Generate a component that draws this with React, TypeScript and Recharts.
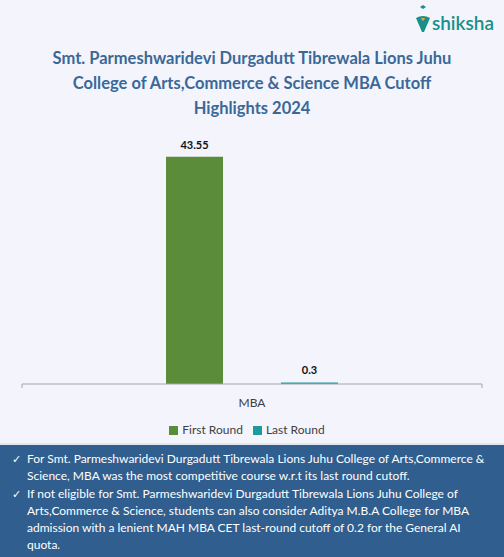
import React from "react";
import { BarChart, Bar, XAxis, YAxis, Legend, LabelList } from "recharts";

const categories = ["MBA"];
const firstRound = [43.55];
const lastRound = [0.3];

const titleLines = [
  "Smt. Parmeshwaridevi Durgadutt Tibrewala Lions Juhu",
  "College of Arts,Commerce & Science MBA Cutoff",
  "Highlights 2024",
];

const notes = [
  "For Smt. Parmeshwaridevi Durgadutt Tibrewala Lions Juhu College of Arts,Commerce & Science, MBA was the most competitive course w.r.t its last round cutoff.",
  "If not eligible for Smt. Parmeshwaridevi Durgadutt Tibrewala Lions Juhu College of Arts,Commerce & Science, students can also consider Aditya M.B.A College for MBA admission with a lenient MAH MBA CET last-round cutoff of 0.2 for the General AI quota.",
];

const data = categories.map((name, i) => ({
  name,
  first: firstRound[i],
  last: lastRound[i],
}));

const FONT = "Lato, 'Open Sans', sans-serif";

// category label plus Excel-like tick marks at the band edges
const CategoryTick = (props: any) => {
  const { x, y, payload } = props;
  const half = payload.offset ?? 0;
  return (
    <g>
      <line x1={x - half} y1={y - 8} x2={x - half} y2={y - 4} stroke="#a6a6a6" />
      <line x1={x + half} y1={y - 8} x2={x + half} y2={y - 4} stroke="#a6a6a6" />
      <text x={x} y={y + 15} textAnchor="middle" fontSize={12} fill="#404040" fontFamily={FONT}>
        {payload.value}
      </text>
    </g>
  );
};

export default function App() {
  return (
    <div
      style={{
        position: "absolute",
        left: 0,
        top: 0,
        width: 504,
        height: 557,
        background: "#f4f4fd",
        fontFamily: FONT,
        overflow: "hidden",
      }}
    >
      <div
        style={{
          position: "absolute",
          right: 10,
          top: 4,
          display: "flex",
          alignItems: "flex-end",
          color: "#17908c",
        }}
      >
        <svg width={16} height={30} viewBox="0 0 16 30">
          <path d="M5 3 L8 1 L11 3 L8 5 Z" fill="#17908c" />
          <path d="M1 14 Q8 10 15 14 L9 28 L7 28 Z" fill="#17908c" />
          <path d="M6 14 Q8 20 10 14" fill="#e8a33c" />
        </svg>
        <span style={{ fontSize: 19, fontWeight: 600, lineHeight: "22px", marginLeft: 1 }}>shiksha</span>
      </div>

      <div
        style={{
          position: "absolute",
          left: 0,
          top: 46,
          width: 504,
          textAlign: "center",
          color: "#3a6897",
          fontWeight: 700,
          fontSize: 16.5,
          lineHeight: "25px",
        }}
      >
        {titleLines.map((t) => (
          <div key={t}>{t}</div>
        ))}
      </div>

      <div style={{ position: "absolute", left: 0, top: 0 }}>
        <BarChart
          width={504}
          height={453}
          data={data}
          margin={{ top: 123, right: 22, left: 22, bottom: 0 }}
          barSize={57}
          barGap={58}
        >
          <XAxis
            dataKey="name"
            height={30}
            axisLine={{ stroke: "#a6a6a6" }}
            tickLine={false}
            tick={<CategoryTick />}
            interval={0}
          />
          <YAxis hide domain={[0, 50]} />
          <Legend
            verticalAlign="bottom"
            height={31}
            iconType="square"
            iconSize={9}
            wrapperStyle={{ paddingTop: 8, fontSize: 12, fontFamily: FONT }}
            formatter={(value) => <span style={{ color: "#404040" }}>{value}</span>}
          />
          <Bar dataKey="first" name="First Round" fill="#5b8c3a" isAnimationActive={false}>
            <LabelList dataKey="first" position="top" offset={8} fill="#111" fontSize={11} fontWeight={700} fontFamily={FONT} />
          </Bar>
          <Bar dataKey="last" name="Last Round" fill="#1f9a9c" isAnimationActive={false}>
            <LabelList dataKey="last" position="top" offset={8} fill="#111" fontSize={11} fontWeight={700} fontFamily={FONT} />
          </Bar>
        </BarChart>
      </div>

      <div
        style={{
          position: "absolute",
          left: 0,
          top: 443,
          width: 504,
          height: 114,
          background: "#2f5e8f",
          borderTop: "2px solid #dfe6f0",
          boxSizing: "border-box",
          color: "#ffffff",
          fontSize: 12,
          lineHeight: "17px",
          padding: "5px 12px 0 12px",
        }}
      >
        {notes.map((n) => (
          <div key={n} style={{ display: "flex", marginBottom: 1 }}>
            <span style={{ width: 15, flex: "none", fontSize: 11 }}>✓</span>
            <span>{n}</span>
          </div>
        ))}
      </div>
    </div>
  );
}
